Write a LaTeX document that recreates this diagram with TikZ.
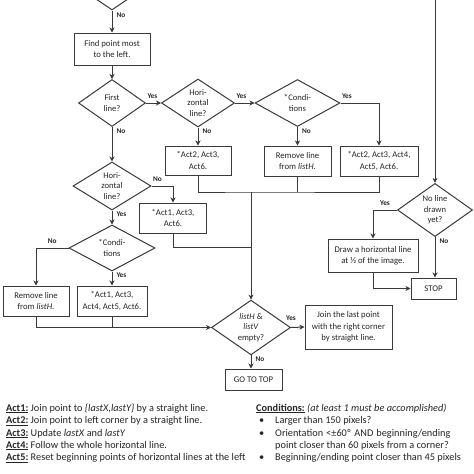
\documentclass[tikz,border=0pt]{standalone}
\usepackage{fontspec}
\setmainfont{Carlito}
\usetikzlibrary{shapes.geometric,arrows.meta}
\definecolor{linec}{HTML}{3A3A3A}
\definecolor{txtc}{HTML}{262626}
\begin{document}
\begin{tikzpicture}[x=1pt,y=-1pt,
 ln/.style={draw=linec, line width=1pt},
 arr/.style={ln, -{Stealth[length=5pt,width=5pt,inset=1.5pt]}},
 box/.style={draw=linec, line width=1pt, rectangle, inner sep=0pt, align=center, text=txtc, font=\fontsize{8.7}{11.5}\selectfont},
 dia/.style={draw=linec, line width=1pt, diamond, inner sep=0pt, align=center, text=txtc, font=\fontsize{8.6}{10.5}\selectfont},
 lbl/.style={font=\bfseries\fontsize{7.3}{8}\selectfont, text=txtc, inner sep=1pt},
 leg/.style={anchor=base west, inner sep=0pt, text=txtc, font=\fontsize{10.3}{12}\selectfont}]
\clip (0,0) rectangle (474,474);
\fill[white] (0,0) rectangle (474,474);

% nodes
\node[dia, minimum width=68pt, minimum height=46pt] (d0) at (112,-13) {};
\node[box, minimum width=76pt, minimum height=32pt] (find) at (112,49) {Find point most\\to the left.};
\node[dia, minimum width=67pt, minimum height=47pt] (d1) at (112,103) {First\\line?};
\node[dia, minimum width=73pt, minimum height=48pt] (d2) at (198,103) {Hori-\\zontal\\line?};
\node[dia, minimum width=85pt, minimum height=47pt] (d3) at (297.5,103) {*Condi-\\tions};
\node[box, minimum width=66pt, minimum height=29pt] (b1) at (198,160.5) {*Act2, Act3,\\Act6.};
\node[box, minimum width=67pt, minimum height=30pt] (b2) at (297.5,161) {Remove line\\from \textit{listH}.};
\node[box, minimum width=78pt, minimum height=30pt] (b3) at (379,161) {*Act2, Act3, Act4,\\Act5, Act6.};
\node[dia, minimum width=78pt, minimum height=47pt] (d4) at (112,186) {Hori-\\zontal\\line?};
\node[box, minimum width=67pt, minimum height=30pt] (b4) at (173,218) {*Act1, Act3,\\Act6.};
\node[dia, minimum width=86pt, minimum height=46pt] (d5) at (112,248) {*Condi-\\tions};
\node[box, minimum width=66pt, minimum height=30pt] (b5) at (36,301) {Remove line\\from \textit{listH}.};
\node[box, minimum width=70pt, minimum height=30pt] (b6) at (112,301) {*Act1, Act3,\\Act4, Act5, Act6.};
\node[dia, minimum width=79pt, minimum height=51pt] (d6) at (251,327.5) {\textit{listH} \&\\\textit{listV}\\empty?};
\node[box, minimum width=87pt, minimum height=44pt] (b7) at (348.5,327) {Join the last point\\with the right corner\\by straight line.};
\node[box, minimum width=57pt, minimum height=21pt] (b8) at (253.5,379.5) {GO TO TOP};
\node[dia, minimum width=75pt, minimum height=46pt] (d7) at (435,210) {No line\\drawn\\yet?};
\node[box, minimum width=90pt, minimum height=33pt] (b9) at (373,255.5) {Draw a horizontal line\\at ½ of the image.};
\node[box, minimum width=45pt, minimum height=21pt] (b10) at (433.5,288.5) {STOP};

\coordinate (j1) at (251,192);
\coordinate (j2) at (251,247);
\coordinate (r0) at (435,-5);

% connectors
\draw[arr] (d0.south) -- node[lbl, anchor=north west, pos=0, xshift=3pt, yshift=-1pt]{No} (find.north);
\draw[arr] (find.south) -- (d1.north);
\draw[arr] (d1.east) -- node[lbl, anchor=south west, pos=0, yshift=3pt]{Yes} (d2.west);
\draw[arr] (d2.east) -- node[lbl, anchor=south west, pos=0, yshift=3pt]{Yes} (d3.west);
\draw[arr] (d2.south) -- node[lbl, anchor=north west, pos=0, xshift=3pt]{No} (b1.north);
\draw[arr] (d3.south) -- node[lbl, anchor=north west, pos=0, xshift=3pt]{No} (b2.north);
\draw[arr] (d3.east) -| node[lbl, anchor=south west, pos=0, yshift=3pt]{Yes} (b3.north);
\draw[arr] (d1.south) -- node[lbl, anchor=north west, pos=0, xshift=3pt]{No} (d4.north);
\draw[arr] (d4.east) -| node[lbl, anchor=south west, pos=0, yshift=3pt]{No} (b4.north);
\draw[arr] (d4.south) -- node[lbl, anchor=north west, pos=0, xshift=3pt]{Yes} (d5.north);
\draw[arr] (d5.west) -| node[lbl, above, pos=0.25, yshift=3pt]{No} (b5.north);
\draw[arr] (d5.south) -- node[lbl, anchor=north west, pos=0, xshift=3pt]{Yes} (b6.north);

\draw[ln] (b1.south) |- (j1) -| (b3.south);
\draw[ln] (b2.south) -- (b2.south |- j1);
\draw[ln] (b4.south) |- (j2);
\draw[arr] (j1) -- (d6.north);
\draw[arr] (b5.south) |- (d6.west);
\draw[ln] (b6.south) -- (b6.south |- d6.west);

\draw[arr] (d6.east) -- node[lbl, anchor=south, pos=0, yshift=5pt]{Yes} (b7.west);
\draw[arr] (d6.south) -- node[lbl, anchor=north west, pos=0, xshift=3pt]{No} (d6.south |- b8.north);

\draw[arr] (r0) -- (d7.north);
\draw[arr] (d7.west) -| node[lbl, above, pos=0.25, yshift=3pt]{Yes} (b9.north);
\draw[arr] (d7.south) -- node[lbl, anchor=north west, pos=0, xshift=3pt]{No} (d7.south |- b10.north);
\draw[arr] (b9.south) |- (b10.west);

% legend
\node[leg] (l1) at (6,411) {\underline{\textbf{Act1:}} Join point to \textit{\{lastX,lastY\}} by a straight line.};
\node[leg] (l2) at (6,423.5) {\underline{\textbf{Act2:}} Join point to left corner by a straight line.};
\node[leg] (l3) at (6,436) {\underline{\textbf{Act3:}} Update \textit{lastX} and \textit{lastY}};
\node[leg] (l4) at (6,448) {\underline{\textbf{Act4:}} Follow the whole horizontal line.};
\node[leg] (l5) at (6,460.5) {\underline{\textbf{Act5:}} Reset beginning points of horizontal lines at the left};

\node[leg] (c0) at (256,411) {\underline{\textbf{Conditions:}} \textit{(at least 1 must be accomplished)}};
\node[leg] (cb1) at (259,423.5) {•};
\node[leg] (c1) at (275,423.5) {Larger than 150 pixels?};
\node[leg] (cb2) at (259,436) {•};
\node[leg] (c2) at (275,436) {\makebox[174pt][s]{Orientation \ <±60º \ AND \ beginning/ending}};
\node[leg] (c3) at (275,448) {point closer than 60 pixels from a corner?};
\node[leg] (cb4) at (259,460.5) {•};
\node[leg] (c4) at (275,460.5) {Beginning/ending point closer than 45 pixels};
\end{tikzpicture}
\end{document}
